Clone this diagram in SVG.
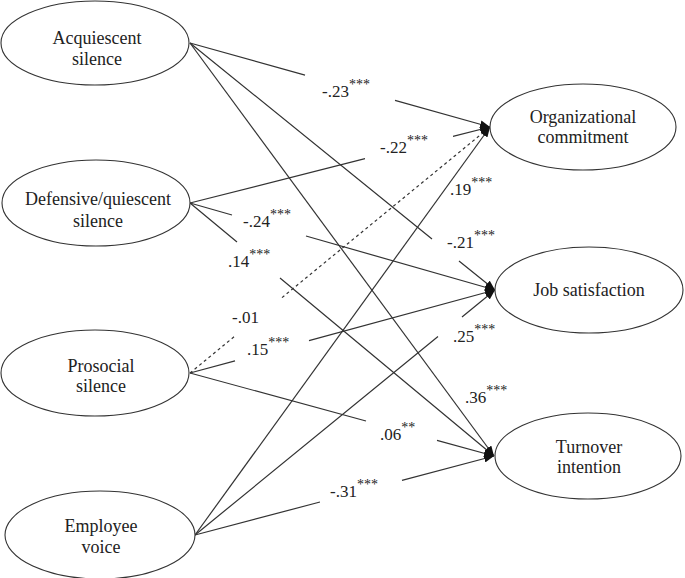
<svg xmlns="http://www.w3.org/2000/svg" width="685" height="578" viewBox="0 0 685 578">
<style>
.node ellipse{fill:#fff;stroke:#333;stroke-width:1.1}
.node text{font-family:"Liberation Serif","Times New Roman",serif;font-size:18px;fill:#222;text-anchor:middle}
.c path{fill:none;stroke:#333;stroke-width:1.2}
.c path.d{stroke-dasharray:3,3}
.lbl{font-family:"Liberation Serif","Times New Roman",serif;font-size:17px;fill:#222}
.lbl tspan.s{font-size:14px}
</style>
<defs>
<marker id="ah" viewBox="0 0 10 8" refX="10" refY="4" markerWidth="10" markerHeight="8" markerUnits="userSpaceOnUse" orient="auto">
<path d="M0,0 L10,4 L0,8 Z" fill="#111"/>
</marker>
</defs>
<rect width="685" height="578" fill="#fff"/>
<g class="c" id="connectors">
<path d="M190,43 L305,75.2 M395,100.4 L490,127" marker-end="url(#ah)"/>
<path d="M190,43 L432,239 M459,261 L495,290" marker-end="url(#ah)"/>
<path d="M190,43 L494,456" marker-end="url(#ah)"/>
<path d="M190,203 L365,158.7 M453,136.4 L490,127" marker-end="url(#ah)"/>
<path d="M190,203 L232,215 M306,236 L495,290" marker-end="url(#ah)"/>
<path d="M190,203 L237,242 M280,278 L494,456" marker-end="url(#ah)"/>
<path class="d" d="M190,373 L235,336 M282,297.6 L490,127" marker-end="url(#ah)"/>
<path d="M190,373 L235,360.8 M309,340.6 L495,290" marker-end="url(#ah)"/>
<path d="M190,373 L366,421 M437,440.4 L494,456" marker-end="url(#ah)"/>
<path d="M195,535 L490,127" marker-end="url(#ah)"/>
<path d="M195,535 L438,336.5 M462,317 L495,290" marker-end="url(#ah)"/>
<path d="M195,535 L320,502 M402,480.3 L494,456" marker-end="url(#ah)"/>
</g>
<g id="labels" class="lbl">
<text x="322" y="97">-.23<tspan class="s" dy="-8">***</tspan></text>
<text x="380" y="153">-.22<tspan class="s" dy="-8">***</tspan></text>
<text x="450" y="195">.19<tspan class="s" dy="-8">***</tspan></text>
<text x="243" y="227">-.24<tspan class="s" dy="-8">***</tspan></text>
<text x="447" y="248">-.21<tspan class="s" dy="-8">***</tspan></text>
<text x="228" y="267">.14<tspan class="s" dy="-8">***</tspan></text>
<text x="232" y="323">-.01</text>
<text x="247" y="355">.15<tspan class="s" dy="-8">***</tspan></text>
<text x="453" y="342">.25<tspan class="s" dy="-8">***</tspan></text>
<text x="465" y="403">.36<tspan class="s" dy="-8">***</tspan></text>
<text x="380" y="440">.06<tspan class="s" dy="-8">**</tspan></text>
<text x="330" y="497">-.31<tspan class="s" dy="-8">***</tspan></text>
</g>
<g class="node" id="acquiescent">
<ellipse cx="95" cy="43" rx="94" ry="42"/>
<text x="97" y="44">Acquiescent</text><text x="97" y="65">silence</text>
</g>
<g class="node" id="defensive">
<ellipse cx="96" cy="203" rx="94" ry="43"/>
<text x="98" y="205">Defensive/quiescent</text><text x="98" y="227">silence</text>
</g>
<g class="node" id="prosocial">
<ellipse cx="95" cy="373" rx="94" ry="43"/>
<text x="101" y="372">Prosocial</text><text x="101" y="392">silence</text>
</g>
<g class="node" id="voice">
<ellipse cx="100" cy="535" rx="95" ry="44"/>
<text x="101" y="532">Employee</text><text x="101" y="553">voice</text>
</g>
<g class="node" id="commitment">
<ellipse cx="583" cy="127" rx="93" ry="43"/>
<text x="583" y="123">Organizational</text><text x="583" y="143">commitment</text>
</g>
<g class="node" id="satisfaction">
<ellipse cx="589" cy="290" rx="94" ry="43"/>
<text x="589" y="296">Job satisfaction</text>
</g>
<g class="node" id="turnover">
<ellipse cx="588" cy="456" rx="93" ry="43"/>
<text x="589" y="453">Turnover</text><text x="589" y="473">intention</text>
</g>
</svg>
